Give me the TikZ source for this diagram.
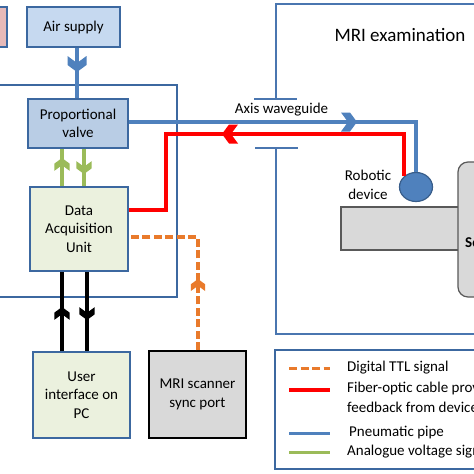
\documentclass[tikz,border=0pt]{standalone}
\usepackage{fontspec}
\setmainfont{Carlito}
\usetikzlibrary{shapes.geometric}
\definecolor{boxedge}{HTML}{3C68A0}
\definecolor{airfill}{HTML}{C6D9F0}
\definecolor{valvefill}{HTML}{B9CDE5}
\definecolor{greenfill}{HTML}{EBF1DE}
\definecolor{pipeblue}{HTML}{4F81BD}
\definecolor{wallblue}{HTML}{4A76B0}
\definecolor{fibred}{HTML}{FF0000}
\definecolor{anagreen}{HTML}{9BBB59}
\definecolor{ttlorange}{HTML}{E97A2B}
\definecolor{grayfill}{HTML}{D9D9D9}
\definecolor{grayedge}{HTML}{595959}
\definecolor{pinkfill}{HTML}{E6B9B8}
\definecolor{robotedge}{HTML}{385D8A}
\tikzset{
  every node/.style={font=\fontsize{15}{18.5}\selectfont},
  bluebox/.style={draw=boxedge, line width=1.5pt, inner sep=0pt, align=center},
  chevron/.pic={\fill (0,0) -- (-7,9.5) -- (-16,9.5) -- (-9,0) -- (-16,-9.5) -- (-7,-9.5) -- cycle;},
  pipe/.style={draw=pipeblue, line width=4pt},
  fiber/.style={draw=fibred, line width=4pt},
  analog/.style={draw=anagreen, line width=3.5pt},
  usb/.style={draw=black, line width=4pt},
  ttl/.style={draw=ttlorange, line width=3.5pt, dash pattern=on 8pt off 3.5pt},
  wall/.style={draw=wallblue, line width=1.5pt},
  thinframe/.style={draw=boxedge, line width=1.4pt},
}
\begin{document}
\begin{tikzpicture}[x=1pt,y=-1pt]
\useasboundingbox (0,0) rectangle (474,474);
\clip (0,0) rectangle (474,474);
\fill[white] (0,0) rectangle (474,474);

% helper coordinates
\coordinate (g1) at (62,0);
\coordinate (g2) at (84,0);
\coordinate (b2) at (87,0);
\coordinate (px) at (77,0);
\coordinate (o1) at (198,0);
\coordinate (rx) at (166,0);
\coordinate (py) at (0,122);
\coordinate (ry) at (0,134);
\coordinate (dy) at (0,210);
\coordinate (oy) at (0,237);
\coordinate (dl) at (0,124);
\coordinate (dlend) at (-5,124);

% outer frame of control unit
\draw[thinframe] (-5,85) rectangle (177,297);

% MRI room walls and waveguide
\draw[wall] (276,99) -- (276,4) -- (480,4);
\draw[wall] (276,148) -- (276,334) -- (480,334);
\draw[wall] (254,99) -- (297,99);
\draw[wall] (255,148) -- (298,148);
\node[font=\fontsize{19}{23}\selectfont] (mritxt) at (400,35) {MRI examination};

% boxes
\node[bluebox, fill=pinkfill, minimum width=12pt, minimum height=40pt] (pink) at (1,27) {};
\node[bluebox, fill=airfill, minimum width=93pt, minimum height=40pt] (air) at (73.5,27) {Air supply};
\node[bluebox, fill=valvefill, minimum width=100pt, minimum height=49pt] (valve) at (78,123.5) {Proportional\\valve};
\node[bluebox, fill=greenfill, minimum width=98pt, minimum height=84pt] (daq) at (79,229) {Data\\Acquisition\\Unit};
\node[bluebox, fill=greenfill, minimum width=97pt, minimum height=86pt] (ui) at (81.5,395) {User\\interface on\\PC};
\node[draw=black, line width=1.5pt, fill=grayfill, inner sep=0pt, align=center, minimum width=97pt, minimum height=87pt] (sync) at (197.5,394.5) {MRI scanner\\sync port};

% scanner
\node[draw=grayedge, line width=1.2pt, fill=grayfill, minimum width=119pt, minimum height=43pt, inner sep=0pt] (bed) at (400.5,228.5) {};
\node[draw=grayedge, line width=1.2pt, fill=grayfill, rounded corners=10pt, minimum width=42pt, minimum height=135pt, inner sep=0pt] (body) at (479,229.5) {};
\node[anchor=west, font=\fontsize{15}{18.5}\selectfont\bfseries, inner sep=0pt] (scantxt) at (465,243) {Scanner};

% robotic device
\node[ellipse, draw=robotedge, line width=1.2pt, fill=pipeblue, minimum width=33pt, minimum height=29pt, inner sep=0pt] (robot) at (416,187) {};
\node[align=center, inner sep=0pt] (robtxt) at (368,185) {Robotic\\device};

% connectors
\draw[draw=gray, double=white, double distance=1.2pt, line width=0.7pt] (dlend) -- (valve.west |- dl);
\draw[pipe] (air.south -| px) -- (valve.north -| px);
\draw[pipe] (valve.east |- py) -- (robot.north |- py) -- (robot.north);
\draw[fiber] (robot.north west) -- (robot.north west |- ry) -- (rx |- ry) -- (rx |- dy) -- (daq.east |- dy);
\draw[analog] (daq.north -| g1) -- (valve.south -| g1);
\draw[analog] (valve.south -| g2) -- (daq.north -| g2);
\draw[usb] (ui.north -| g1) -- (daq.south -| g1);
\draw[usb] (daq.south -| b2) -- (ui.north -| b2);
\draw[ttl] (sync.north -| o1) -- (o1 |- oy) -- (daq.east |- oy);

% arrowheads on the connectors
\pic[color=pipeblue, rotate=-90] at (77,72) {chevron};
\pic[color=pipeblue] at (357,122) {chevron};
\pic[color=fibred, rotate=180] at (222,134) {chevron};
\pic[color=anagreen, rotate=90, scale=0.8] at (62,158) {chevron};
\pic[color=anagreen, rotate=-90, scale=0.8] at (84,174) {chevron};
\pic[color=black, rotate=90, scale=0.8] at (62,307) {chevron};
\pic[color=black, rotate=-90, scale=0.8] at (87,320) {chevron};
\pic[color=ttlorange, rotate=90, scale=0.75] at (198,279) {chevron};

\node[inner sep=0pt] (axtxt) at (281.5,110) {Axis waveguide};

% legend
\draw[thinframe, line width=1.2pt] (275,350) rectangle (490,469);
\draw[ttl, line width=3pt] (289,368) -- (330,368);
\draw[fiber, line width=3.5pt] (289,390) -- (330,390);
\draw[pipe, line width=3pt] (289,433) -- (330,433);
\draw[analog, line width=3pt] (289,452) -- (330,452);
\node[anchor=west, inner sep=0pt] (l1) at (347,368) {Digital TTL signal};
\node[anchor=west, inner sep=0pt] (l2) at (347,389) {Fiber-optic cable providing};
\node[anchor=west, inner sep=0pt] (l3) at (347,407) {feedback from device};
\node[anchor=west, inner sep=0pt] (l4) at (349,433) {Pneumatic pipe};
\node[anchor=west, inner sep=0pt] (l5) at (347,452) {Analogue voltage signal};
\end{tikzpicture}
\end{document}
